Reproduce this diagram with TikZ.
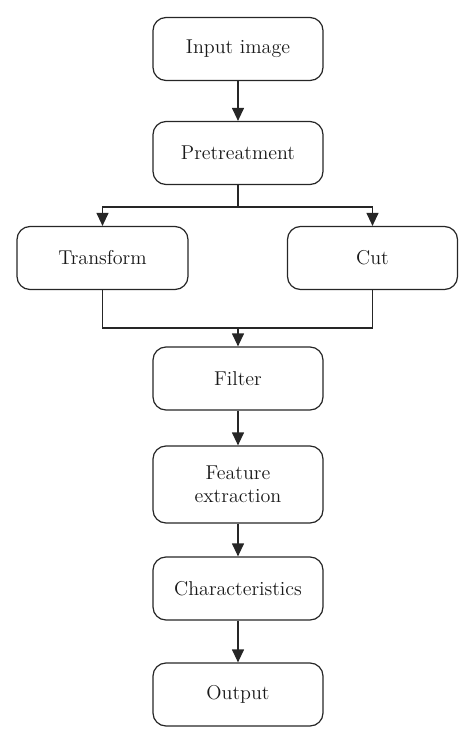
\documentclass[tikz,border=0pt]{standalone}
\usetikzlibrary{arrows.meta}

\tikzset{
  caja/.style={draw=black!85, line width=0.7pt, rounded corners=0.26cm,
    minimum width=3.4cm, minimum height=1.26cm, inner sep=0pt, align=center,
    text=black!90, font=\fontsize{11.4}{14}\selectfont},
  flecha/.style={draw=black!85, line width=0.7pt,
    -{Triangle[width=0.24cm,length=0.26cm]}},
  linea/.style={draw=black!85, line width=0.7pt}
}

\begin{document}
\begin{tikzpicture}
        \useasboundingbox (0,0) rectangle (9.48,-14.88);

        % Paso 1: Define las cajas del diagrama
        \node[caja] (entrada) at (4.76,-0.98) {Input image};
        \node[caja] (pretrat) at (4.76,-3.06) {Pretreatment};
        \node[caja, minimum width=3.42cm] (transf) at (2.05,-5.16) {Transform};
        \node[caja] (corte) at (7.45,-5.16) {Cut};
        \node[caja] (filtro) at (4.76,-7.57) {Filter};
        \node[caja, minimum height=1.54cm] (rasgos) at (4.76,-9.69) {Feature\\[-1pt]extraction};
        \node[caja] (caract) at (4.76,-11.77) {Characteristics};
        \node[caja] (salida) at (4.76,-13.89) {Output};

        % Paso 2: Puntos de bifurcación y unión
        \coordinate (divide) at (4.76,-4.14);
        \coordinate (une) at (4.76,-6.56);

        % Paso 3: Dibuja las flechas
        \draw[flecha] (entrada) -- (pretrat);
        \draw[linea] (pretrat.south) -- (divide);
        \draw[flecha] (divide) -| (transf);
        \draw[flecha] (divide) -| (corte);
        \draw[linea] (transf.south) |- (une);
        \draw[linea] (corte.south) |- (une);
        \draw[flecha] (une) -- (filtro);
        \draw[flecha] (filtro) -- (rasgos);
        \draw[flecha] (rasgos) -- (caract);
        \draw[flecha] (caract) -- (salida);
    \end{tikzpicture}
\end{document}
